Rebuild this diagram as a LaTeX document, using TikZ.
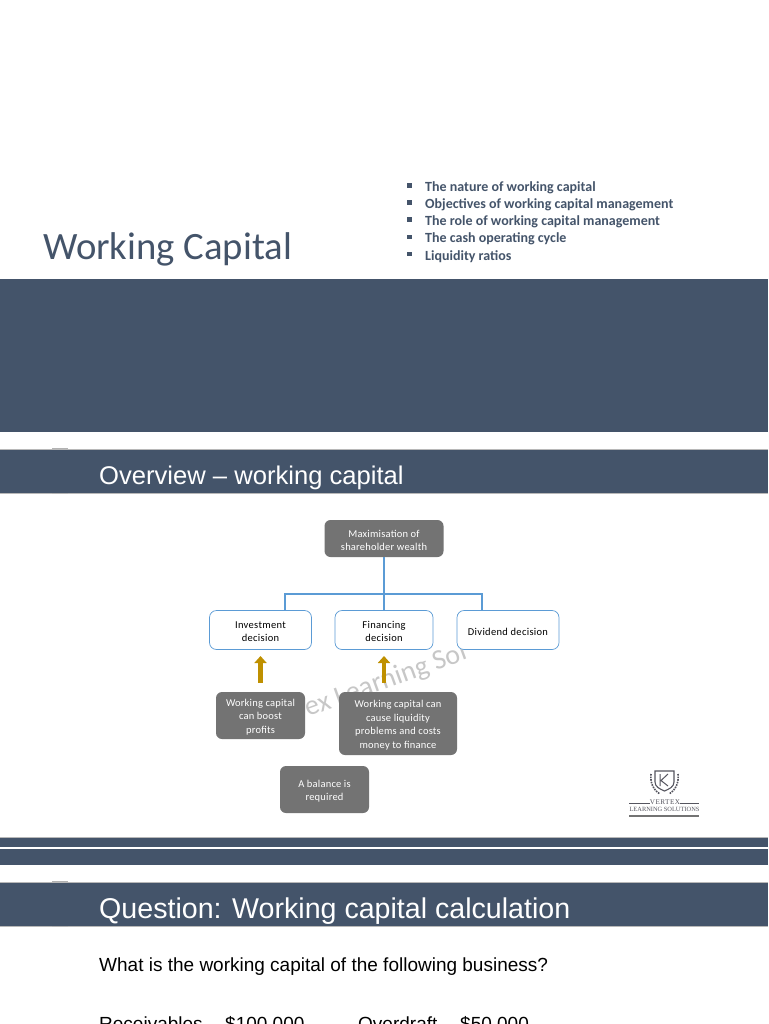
\documentclass[tikz,border=0pt]{standalone}
\usepackage{fontspec}
\setmainfont{Carlito}
\newfontfamily\arialf{Liberation Sans}
\newfontfamily\serifl{Liberation Serif}
\usetikzlibrary{arrows.meta}
\definecolor{slate}{HTML}{44546A}
\definecolor{boxgrey}{HTML}{737373}
\definecolor{linkblue}{HTML}{5B9BD5}
\definecolor{gold}{HTML}{BF9000}
\definecolor{logoc}{HTML}{55555F}
\newcommand{\firstl}{\rule{0pt}{10.6pt}}
\tikzset{
  bar/.style={fill=slate,draw=none},
  barline/.style={draw=black!28,line width=0.8pt},
  bump/.style={draw=black!30,line width=0.8pt},
  head/.style={anchor=base west,text=white,inner sep=0pt},
  greybox/.style={draw=none,fill=boxgrey,rounded corners=6pt,text=white,align=center,inner sep=0pt,
     font=\fontsize{10.5}{13.4}\selectfont\addfontfeatures{LetterSpace=2}},
  whitebox/.style={draw=linkblue,line width=0.7pt,fill=white,rounded corners=7pt,text=black,align=center,inner sep=0pt,
     font=\fontsize{10.5}{13.4}\selectfont\addfontfeatures{LetterSpace=3}},
  link/.style={draw=linkblue,line width=1.4pt},
  goldarrow/.style={draw=gold,line width=4.8pt,-{Triangle[length=7pt,width=12pt]}},
  bulletline/.style={anchor=base west,text=slate,inner sep=0pt,font=\bfseries\fontsize{14}{16}\selectfont},
  bulletmark/.style={fill=slate,draw=none,minimum size=4.4pt,inner sep=0pt},
  body/.style={anchor=base west,text=black,inner sep=0pt,font=\arialf\fontsize{19}{23}\selectfont},
}
\begin{document}
\begin{tikzpicture}[x=1pt,y=-1pt]
\useasboundingbox (0,0) rectangle (768,1024);
\clip (0,0) rectangle (768,1024);
\fill[white] (0,0) rectangle (768,1024);

% first slide
\node[anchor=base west,text=slate,inner sep=0pt,font=\fontsize{38.7}{41}\selectfont] (title) at (43,259) {Working Capital};
\foreach \n/\yy/\t in {a/191.5/The nature of working capital,b/208.5/Objectives of working capital management,c/225.5/The role of working capital management,d/243/The cash operating cycle,e/260/Liquidity ratios}{
  \node[bulletmark] (m\n) at (409.5,\yy-6) {};
  \node[bulletline] (t\n) at (425,\yy) {\t};
}
\fill[bar] (0,279) rectangle (768,432);

% overview slide
\fill[bar] (0,449) rectangle (768,493);
\draw[barline] (0,449) -- (768,449);
\draw[barline] (0,493) -- (768,493);
\draw[bump] (52,448.6) -- (68,448.6);
\draw[bump] (52,493.4) -- (68,493.4);
\node[head,font=\arialf\fontsize{25.6}{28}\selectfont] (overview) at (99,484) {Overview – working capital};

% watermark
\node[text=black!22,rotate=20,font=\fontsize{28}{30}\selectfont,inner sep=0pt,anchor=center] (mark) at (386,681) {ex Learning Sol};

% diagram
\node[greybox,minimum width=119pt,minimum height=37pt] (max) at (384,538.5) {\firstl Maximisation of\\shareholder wealth};
\node[whitebox,minimum width=102pt,minimum height=39pt] (inv) at (260.5,630) {\firstl Investment\\decision};
\node[whitebox,minimum width=98pt,minimum height=39pt] (fin) at (384,630) {\firstl Financing\\decision};
\node[whitebox,minimum width=102pt,minimum height=39pt] (div) at (508,630) {\firstl Dividend decision};
\node[greybox,minimum width=89pt,minimum height=47pt] (boost) at (260.5,715.5) {\firstl Working capital\\can boost\\profits};
\node[greybox,minimum width=118pt,minimum height=63pt] (cause) at (398,723.5) {\firstl Working capital can\\cause liquidity\\problems and costs\\money to finance};
\node[greybox,minimum width=89pt,minimum height=47pt] (bal) at (324.5,789.5) {\firstl A balance is\\required};

\coordinate (junc) at (384,594);
\draw[link] (max.south) -- (fin.north);
\draw[link] (inv.north -| 285,0) |- (junc);
\draw[link] (div.north -| 482,0) |- (junc);

\coordinate (a1s) at (260.5,682.5);
\coordinate (a1e) at (260.5,656);
\coordinate (a2s) at (384,682.5);
\coordinate (a2e) at (384,656);
\draw[goldarrow] (a1s) -- (a1e);
\draw[goldarrow] (a2s) -- (a2e);

% logo
\begin{scope}[logoc]
  \draw[line width=1.1pt] (655,771) -- (674,771) -- (674,782) .. controls (674,787) and (669,789) .. (664.5,791) .. controls (660,789) and (655,787) .. (655,782) -- cycle;
  \draw[line width=1pt] (660,774) -- (660,786) (668,774) -- (661,780.5) -- (668,786);
  \draw[line width=1.6pt,dash pattern=on 1.6pt off 1pt] (651,774) .. controls (650,782) and (653,790) .. (660,794);
  \draw[line width=1.6pt,dash pattern=on 1.6pt off 1pt] (678,774) .. controls (679,782) and (676,790) .. (669,794);
  \node[inner sep=0pt,font=\serifl\fontsize{7.2}{8}\selectfont\addfontfeatures{LetterSpace=6}] (lv) at (665,802.5) {VERTEX};
  \node[inner sep=0pt,font=\serifl\fontsize{6.4}{7}\selectfont] (ll) at (664.5,809) {LEARNING SOLUTIONS};
  \coordinate (lr1) at (629,803);
  \coordinate (lr2) at (699,803);
  \draw[line width=0.5pt] (lr1) -- (lv.west |- lr1);
  \draw[line width=0.5pt] (lv.east |- lr2) -- (lr2);
  \draw[line width=1.4pt,black!55] (629,816) -- (699,816);
\end{scope}

% divider bars
\fill[bar] (0,838) rectangle (768,847);
\fill[bar] (0,849) rectangle (768,865);
\draw[barline] (0,837.7) -- (768,837.7);

% question slide
\fill[bar] (0,882) rectangle (768,926);
\draw[barline] (0,882) -- (768,882);
\draw[barline] (0,926) -- (768,926);
\draw[bump] (52,881.6) -- (68,881.6);
\draw[bump] (52,926.4) -- (68,926.4);
\node[head,font=\arialf\fontsize{28.6}{31}\selectfont] (q) at (99,918) {Question: Working capital calculation};
\node[body] (q1) at (99,971.5) {What is the working capital of the following business?};
\node[body] (q2) at (99,1030) {Receivables};
\node[body] (q3) at (225,1030) {\$100,000};
\node[body] (q4) at (358,1030) {Overdraft};
\node[body] (q5) at (460,1030) {\$50,000};
\end{tikzpicture}
\end{document}
